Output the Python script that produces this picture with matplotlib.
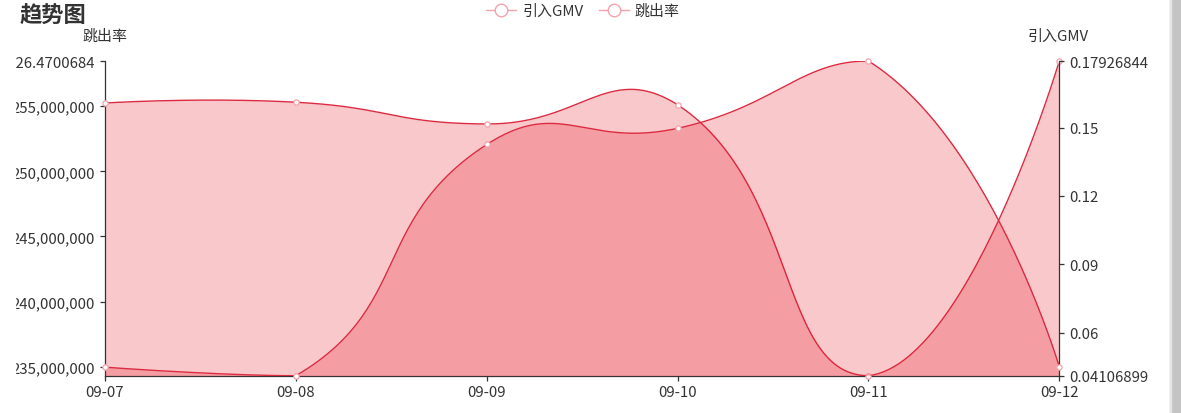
import numpy as np
import matplotlib
matplotlib.use('Agg')
import matplotlib.pyplot as plt
from matplotlib.lines import Line2D
from matplotlib.patches import Rectangle

plt.rcParams['font.family'] = ['Noto Sans CJK SC', 'DejaVu Sans']

dates = ['09-07', '09-08', '09-09', '09-10', '09-11', '09-12']
# left axis (named 跳出率 in the original chart)
gmv = [255.25e6, 255.31e6, 253.64e6, 255.12e6, 234.31e6, 258476326.4700684]
# right axis (named 引入GMV in the original chart)
bounce = [0.0448, 0.04106899, 0.1426, 0.1497, 0.17926844, 0.0450]
left_ticks = [235e6, 240e6, 245e6, 250e6, 255e6]
right_ticks = [0.06, 0.09, 0.12, 0.15]

LINE = '#dc2a40'
FILL = '#e61626'
DOT = '#f2a3ab'
TXT = '#333333'


def smooth_curve(vals, lo, hi, W=954.0, H=315.0, smooth=0.5, n=60):
    # echarts-like bezier smoothing, done in pixel space
    vals = np.asarray(vals, dtype=float)
    k = len(vals) - 1
    p = np.column_stack([np.arange(len(vals)) / k * W, (vals - lo) / (hi - lo) * H])
    pmin, pmax = p.min(0), p.max(0)
    cin = p.copy()
    cout = p.copy()
    for i in range(1, len(p) - 1):
        v = p[i + 1] - p[i - 1]
        d0 = np.hypot(*(p[i] - p[i - 1]))
        d1 = np.hypot(*(p[i + 1] - p[i]))
        r = d1 / (d0 + d1)
        cin[i] = np.clip(p[i] - v * smooth * (1 - r), pmin, pmax)
        cout[i] = np.clip(p[i] + v * smooth * r, pmin, pmax)
    t = np.linspace(0, 1, n)[:, None]
    segs = []
    for i in range(len(p) - 1):
        b = ((1 - t) ** 3 * p[i] + 3 * (1 - t) ** 2 * t * cout[i]
             + 3 * (1 - t) * t ** 2 * cin[i + 1] + t ** 3 * p[i + 1])
        segs.append(b if i == 0 else b[1:])
    c = np.vstack(segs)
    return c[:, 0] / W * k, c[:, 1] / H * (hi - lo) + lo


fig = plt.figure(figsize=(11.81, 4.14), dpi=100)
ax = fig.add_axes([105 / 1181, 37.3 / 414, 954.3 / 1181, 314.7 / 414])
ax2 = ax.twinx()

lo1, hi1 = min(gmv), max(gmv)
lo2, hi2 = min(bounce), max(bounce)
x = np.arange(len(dates))

sx, sy = smooth_curve(gmv, lo1, hi1)
ax.fill_between(sx, sy, lo1, color=FILL, alpha=0.235, lw=0)
ax.plot(sx, sy, color=LINE, lw=1.0)
ax.plot(x, gmv, 'o', ms=3.8, mfc='white', mec=DOT, mew=0.9, clip_on=False, zorder=5)

sx, sy = smooth_curve(bounce, lo2, hi2)
ax2.fill_between(sx, sy, lo2, color=FILL, alpha=0.235, lw=0)
ax2.plot(sx, sy, color=LINE, lw=1.0)
ax2.plot(x, bounce, 'o', ms=3.8, mfc='white', mec=DOT, mew=0.9, clip_on=False, zorder=5)

ax.set_xlim(0, len(dates) - 1)
ax.set_ylim(lo1, hi1)
ax2.set_ylim(lo2, hi2)

ax.set_xticks(x, dates)
ax.set_yticks(left_ticks + [hi1],
              [f'{v:,.0f}' for v in left_ticks] + [f'{hi1:,.7f}'])
ax2.set_yticks([lo2] + right_ticks + [hi2],
               ['0.04106899'] + [f'{v:g}' for v in right_ticks] + ['0.17926844'])

for a in (ax, ax2):
    a.tick_params(length=3.6, width=0.9, color=TXT, labelcolor=TXT,
                  labelsize=10.8, pad=3.5)
    a.spines['top'].set_visible(False)
    for s in a.spines.values():
        s.set_color(TXT)
        s.set_linewidth(0.9)
ax.spines['right'].set_visible(False)
ax2.spines['left'].set_visible(False)
ax2.spines['bottom'].set_visible(False)
ax.tick_params(axis='x', pad=3)

fig.text(105 / 1181, 1 - 36.5 / 414, '跳出率', ha='center', va='center',
         fontsize=10.8, color=TXT)
fig.text(1058.5 / 1181, 1 - 36.5 / 414, '引入GMV', ha='center', va='center',
         fontsize=10.8, color=TXT)
fig.text(20 / 1181, 1 - 16 / 414, '趋势图', ha='left', va='center',
         fontsize=16, fontweight='bold', color=TXT)

handles = [Line2D([], [], color=DOT, lw=1.0, marker='o', ms=9, mfc='white',
                  mec=DOT, mew=1.0) for _ in range(2)]
fig.legend(handles, ['引入GMV', '跳出率'], loc='center', ncol=2,
           bbox_to_anchor=(583 / 1181, 1 - 12 / 414), frameon=False,
           fontsize=10.8, labelcolor=TXT, handlelength=2.0,
           handletextpad=0.4, columnspacing=1.0)

# page clipping on the left, scrollbar on the right
fig.add_artist(Rectangle((0, 0), 15 / 1181, 1, transform=fig.transFigure,
                         color='white', zorder=20))
fig.add_artist(Rectangle((1170 / 1181, 0), 11 / 1181, 1, transform=fig.transFigure,
                         color='#c4c4c4', zorder=20))
fig.add_artist(Rectangle((1170 / 1181, 0), 1.2 / 1181, 1, transform=fig.transFigure,
                         color='#e4e4e4', zorder=21))

fig.savefig('out.png', dpi=100)
